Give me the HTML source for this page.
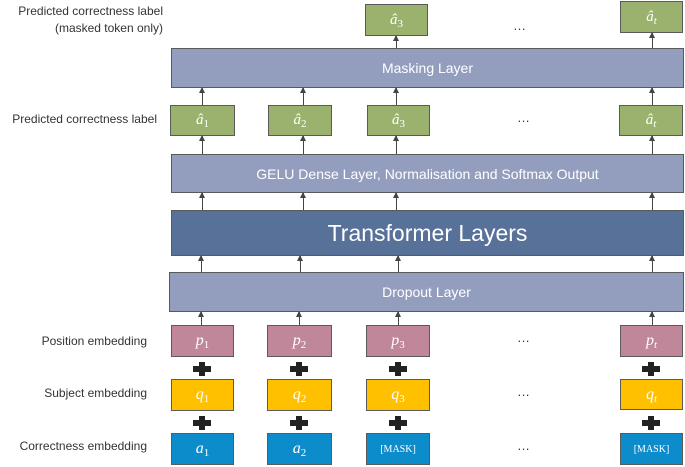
<!DOCTYPE html>
<html><head><style>
body{margin:0;width:685px;height:467px;background:#fff;position:relative;overflow:hidden;font-family:"Liberation Sans",sans-serif}
.b{position:absolute;box-sizing:border-box;border:1px solid #5a5a5a;color:#fff;display:flex;align-items:center;justify-content:center;text-align:center}
.g{background:#9bb26f;font-family:"Liberation Serif",serif;font-style:italic;font-size:15px}
.l{background:#939ebf;font-size:14px}
.p{background:#c0879a;font-family:"Liberation Serif",serif;font-style:italic;font-size:16px}
.y{background:#ffc000;font-family:"Liberation Serif",serif;font-style:italic;font-size:16px}
.c{background:#0d8ccc;font-family:"Liberation Serif",serif;font-size:16px}
.m{font-size:10px;font-style:normal}
.t{position:absolute;font-size:12px;color:#333;text-align:right}
.d{position:absolute;font-size:13px;color:#333}
.a{position:absolute;width:1px;background:#444}
.a:before{content:"";position:absolute;top:-1px;left:-3px;border-left:3.5px solid transparent;border-right:3.5px solid transparent;border-bottom:6px solid #444}
.pl{position:absolute;width:18px;height:14px}
.pl:before{content:"";position:absolute;left:6px;top:0;width:6px;height:14px;background:#222}
.pl:after{content:"";position:absolute;left:0;top:4px;width:18px;height:6px;background:#222}
sub{font-size:11px;font-style:normal;vertical-align:-3px;line-height:0}
</style></head><body>
<div class="t" style="right:522px;top:3px;line-height:17px">Predicted correctness label<br>(masked token only)</div>
<div class="t" style="right:528px;top:112px">Predicted correctness label</div>
<div class="t" style="right:538px;top:334px">Position embedding</div>
<div class="t" style="right:538px;top:386px">Subject embedding</div>
<div class="t" style="right:538px;top:439px">Correctness embedding</div>

<div class="b g" style="left:365px;top:4px;width:63px;height:32px"><span>â<sub>3</sub></span></div>
<div class="b g" style="left:620px;top:1px;width:63px;height:32px"><span>â<sub><i>t</i></sub></span></div>
<div class="d" style="left:513px;top:18px">…</div>

<div class="b l" style="left:171px;top:48px;width:513px;height:40px">Masking Layer</div>

<div class="b g" style="left:170px;top:105px;width:65px;height:31px"><span>â<sub>1</sub></span></div>
<div class="b g" style="left:268px;top:105px;width:64px;height:31px"><span>â<sub>2</sub></span></div>
<div class="b g" style="left:367px;top:105px;width:63px;height:31px"><span>â<sub>3</sub></span></div>
<div class="b g" style="left:619px;top:105px;width:64px;height:31px"><span>â<sub><i>t</i></sub></span></div>
<div class="d" style="left:517px;top:110px">…</div>

<div class="b l" style="left:171px;top:154px;width:513px;height:39px">GELU Dense Layer, Normalisation and Softmax Output</div>
<div class="b" style="left:171px;top:210px;width:513px;height:46px;background:#587199;font-size:23px">Transformer Layers</div>
<div class="b l" style="left:169px;top:272px;width:515px;height:40px">Dropout Layer</div>

<div class="b p" style="left:171px;top:325px;width:63px;height:32px"><span>p<sub>1</sub></span></div>
<div class="b p" style="left:267px;top:325px;width:65px;height:32px"><span>p<sub>2</sub></span></div>
<div class="b p" style="left:366px;top:325px;width:64px;height:32px"><span>p<sub>3</sub></span></div>
<div class="b p" style="left:620px;top:325px;width:63px;height:32px"><span>p<sub><i>t</i></sub></span></div>
<div class="b y" style="left:171px;top:379px;width:63px;height:32px"><span>q<sub>1</sub></span></div>
<div class="b y" style="left:267px;top:379px;width:65px;height:32px"><span>q<sub>2</sub></span></div>
<div class="b y" style="left:366px;top:379px;width:64px;height:32px"><span>q<sub>3</sub></span></div>
<div class="b y" style="left:620px;top:379px;width:63px;height:31px"><span>q<sub><i>t</i></sub></span></div>
<div class="b c" style="left:171px;top:433px;width:63px;height:32px"><span><i>a</i><sub>1</sub></span></div>
<div class="b c" style="left:267px;top:433px;width:65px;height:32px"><span><i>a</i><sub>2</sub></span></div>
<div class="b c" style="left:366px;top:433px;width:64px;height:32px"><span class="m">[MASK]</span></div>
<div class="b c" style="left:620px;top:433px;width:63px;height:32px"><span class="m">[MASK]</span></div>
<div class="d" style="left:517px;top:330px">…</div>
<div class="d" style="left:517px;top:384px">…</div>
<div class="d" style="left:517px;top:438px">…</div>

<div class="pl" style="left:193px;top:362px"></div><div class="pl" style="left:290px;top:362px"></div><div class="pl" style="left:389px;top:362px"></div><div class="pl" style="left:642px;top:362px"></div>
<div class="pl" style="left:193px;top:416px"></div><div class="pl" style="left:290px;top:416px"></div><div class="pl" style="left:389px;top:416px"></div><div class="pl" style="left:642px;top:416px"></div>

<div class="a" style="left:396px;top:36px;height:12px"></div>
<div class="a" style="left:652px;top:33px;height:15px"></div>
<div class="a" style="left:202px;top:88px;height:17px"></div>
<div class="a" style="left:303px;top:88px;height:17px"></div>
<div class="a" style="left:396px;top:88px;height:17px"></div>
<div class="a" style="left:652px;top:88px;height:17px"></div>
<div class="a" style="left:202px;top:136px;height:18px"></div>
<div class="a" style="left:303px;top:136px;height:18px"></div>
<div class="a" style="left:396px;top:136px;height:18px"></div>
<div class="a" style="left:652px;top:136px;height:18px"></div>
<div class="a" style="left:202px;top:193px;height:17px"></div>
<div class="a" style="left:303px;top:193px;height:17px"></div>
<div class="a" style="left:396px;top:193px;height:17px"></div>
<div class="a" style="left:652px;top:193px;height:17px"></div>
<div class="a" style="left:201px;top:256px;height:16px"></div>
<div class="a" style="left:300px;top:256px;height:16px"></div>
<div class="a" style="left:398px;top:256px;height:16px"></div>
<div class="a" style="left:652px;top:256px;height:16px"></div>
<div class="a" style="left:201px;top:312px;height:13px"></div>
<div class="a" style="left:299px;top:312px;height:13px"></div>
<div class="a" style="left:398px;top:312px;height:13px"></div>
<div class="a" style="left:652px;top:312px;height:13px"></div>
</body></html>
